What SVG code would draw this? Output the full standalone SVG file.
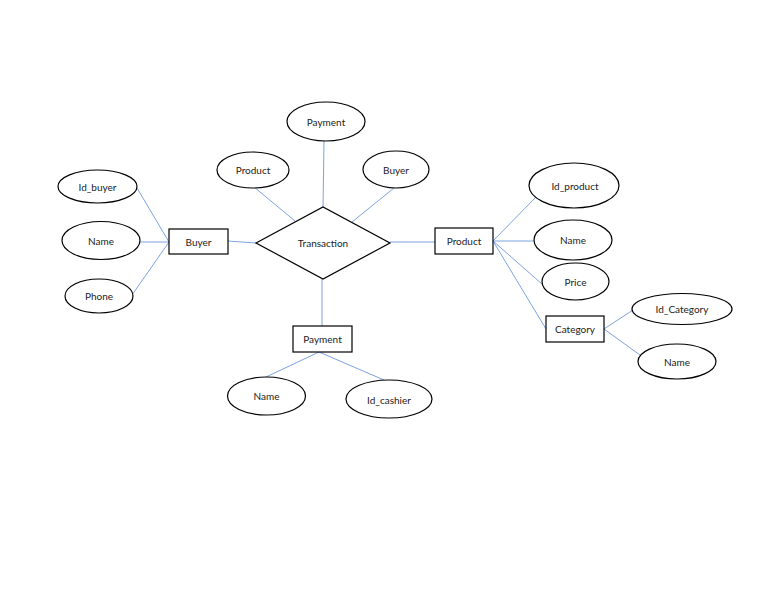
<svg xmlns="http://www.w3.org/2000/svg" width="768" height="594" viewBox="0 0 768 594">
<style>
.s{fill:#fff;stroke:#000;stroke-width:1.2}
.c line{stroke:#7da3e3;stroke-width:1}
text{font-family:Lato,"Open Sans","Liberation Sans",sans-serif;font-size:10px;fill:#222;text-anchor:middle;dominant-baseline:central}
</style>
<rect width="768" height="594" fill="#fff"/>
<g class="c" id="connectors">
<line x1="169" y1="242" x2="137" y2="188"/>
<line x1="169" y1="242" x2="140" y2="242"/>
<line x1="169" y1="242" x2="132" y2="295"/>
<line x1="228" y1="241" x2="256" y2="243"/>
<line x1="324" y1="141" x2="323" y2="207"/>
<line x1="254" y1="187" x2="295" y2="221"/>
<line x1="394" y1="188" x2="352" y2="222"/>
<line x1="390" y1="242" x2="435" y2="242"/>
<line x1="493" y1="241" x2="535" y2="198"/>
<line x1="493" y1="241" x2="534" y2="241"/>
<line x1="493" y1="241" x2="542" y2="284"/>
<line x1="493" y1="241" x2="546" y2="329"/>
<line x1="604" y1="329" x2="633" y2="310"/>
<line x1="604" y1="329" x2="640" y2="355"/>
<line x1="322" y1="279" x2="322" y2="326"/>
<line x1="319" y1="352" x2="266" y2="377"/>
<line x1="319" y1="352" x2="384" y2="380"/>
</g>
<g id="transaction"><polygon class="s" points="256,243 323,207 390,243 323,279"/><text x="323" y="243">Transaction</text></g>
<g id="buyer"><rect class="s" x="169" y="229" width="59" height="25"/><text x="198.5" y="241.5">Buyer</text></g>
<g id="product"><rect class="s" x="435" y="228" width="58" height="26"/><text x="464" y="241">Product</text></g>
<g id="category"><rect class="s" x="546" y="316" width="58" height="26"/><text x="575" y="329">Category</text></g>
<g id="payment"><rect class="s" x="293" y="326" width="59" height="26"/><text x="322.5" y="339">Payment</text></g>
<g id="attr-id-buyer"><ellipse class="s" cx="97.5" cy="186.5" rx="39.5" ry="16.5"/><text x="97.5" y="186.5">Id_buyer</text></g>
<g id="attr-buyer-name"><ellipse class="s" cx="101" cy="240.5" rx="39" ry="19"/><text x="101" y="240.5">Name</text></g>
<g id="attr-phone"><ellipse class="s" cx="99" cy="296" rx="34" ry="17"/><text x="99" y="296">Phone</text></g>
<g id="attr-payment"><ellipse class="s" cx="326" cy="121.5" rx="39" ry="19.5"/><text x="326" y="121.5">Payment</text></g>
<g id="attr-product"><ellipse class="s" cx="253" cy="170" rx="36" ry="18"/><text x="253" y="170">Product</text></g>
<g id="attr-buyer"><ellipse class="s" cx="396" cy="169.5" rx="33" ry="18.5"/><text x="396" y="169.5">Buyer</text></g>
<g id="attr-id-product"><ellipse class="s" cx="574" cy="185.5" rx="45" ry="22.5"/><text x="575" y="185.5">Id_product</text></g>
<g id="attr-product-name"><ellipse class="s" cx="573" cy="240" rx="39" ry="20"/><text x="573" y="239.5">Name</text></g>
<g id="attr-price"><ellipse class="s" cx="575.5" cy="281.5" rx="33.5" ry="18.5"/><text x="575.5" y="281.5">Price</text></g>
<g id="attr-id-category"><ellipse class="s" cx="682" cy="309" rx="50" ry="15.5"/><text x="682" y="308.5">Id_Category</text></g>
<g id="attr-category-name"><ellipse class="s" cx="677" cy="361.5" rx="39" ry="17.5"/><text x="677" y="361.5">Name</text></g>
<g id="attr-payment-name"><ellipse class="s" cx="266.5" cy="396" rx="39" ry="19"/><text x="266.5" y="396">Name</text></g>
<g id="attr-id-cashier"><ellipse class="s" cx="389" cy="399" rx="43" ry="19"/><text x="389" y="399.5">Id_cashier</text></g>
</svg>
